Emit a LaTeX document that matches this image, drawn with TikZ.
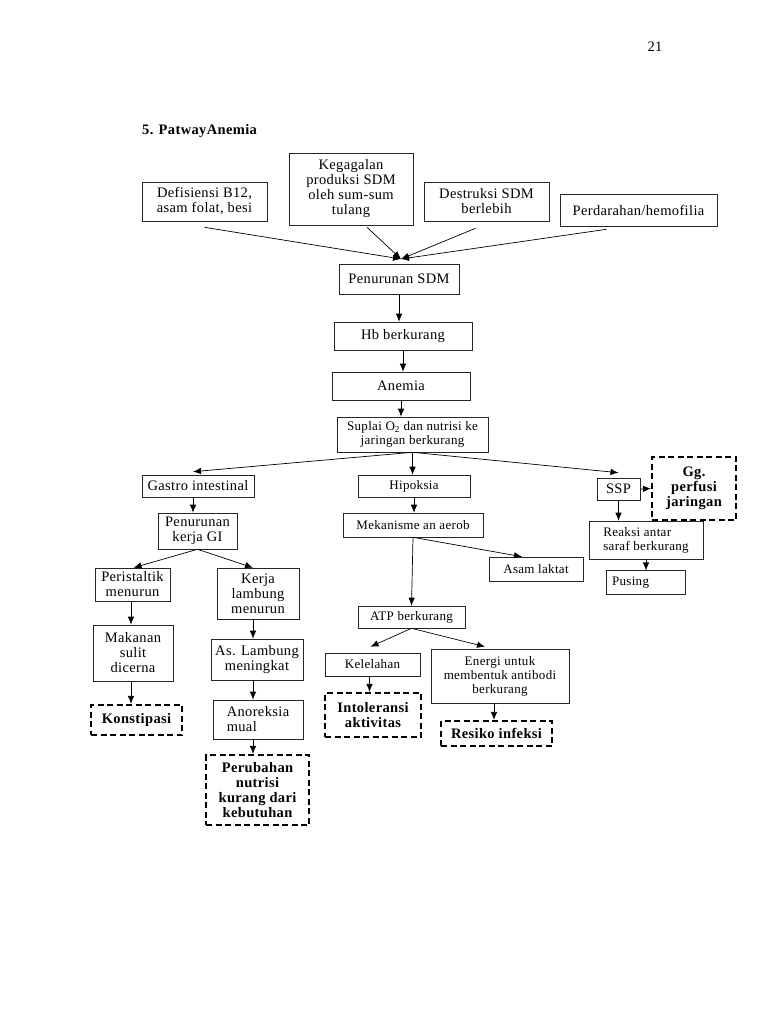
\documentclass[tikz,border=0pt]{standalone}
\usepackage{fontspec}
\setmainfont{Liberation Serif}[LetterSpace=2.5]
\usetikzlibrary{arrows.meta}

\newcommand{\fsnorm}{\fontsize{14.5}{15}\selectfont}
\newcommand{\fssmall}{\fontsize{13}{14}\selectfont}

\begin{document}
\begin{tikzpicture}[x=1pt,y=-1pt,
  box/.style={draw=black!85, line width=0.6pt, inner sep=1pt, align=center, font=\fsnorm},
  sbox/.style={box, font=\fssmall},
  dbox/.style={draw, line width=2.2pt, dash pattern=on 6pt off 3.5pt, inner sep=1pt, align=center, font=\fsnorm\bfseries},
  wh/.style 2 args={minimum width=#1pt, minimum height=#2pt},
  arr/.style={-{Latex[length=8pt,width=6.5pt]}, line width=0.7pt}]

\useasboundingbox (0,0) rectangle (768,1024);

\node[font=\fsnorm] (pagenum) at (655,47) {21};
\node[anchor=base west, inner sep=0, font=\fsnorm\bfseries] (title) at (142,135) {5. PatwayAnemia};

% causes
\node[box, wh={125}{39}] (def) at (204.5,201.5) {Defisiensi B12,\\asam folat, besi};
\node[box, wh={124}{72}] (keg) at (351,189) {Kegagalan\\produksi SDM\\oleh sum-sum\\tulang};
\node[box, wh={125}{39}] (des) at (486.5,201.5) {Destruksi SDM\\berlebih};
\node[box, wh={157}{32}] (per) at (638.5,210) {Perdarahan/hemofilia};
\coordinate (meet) at (401,259);

% main chain
\node[box, wh={120}{30}] (pen) at (399,279) {Penurunan SDM};
\node[box, wh={138}{28}] (hb) at (403,336) {Hb berkurang};
\node[box, wh={138}{28}] (anemia) at (401,386) {Anemia};
\node[sbox, wh={151}{35}] (suplai) at (412.5,434.5) {Suplai O\textsubscript{2} dan nutrisi ke\\jaringan berkurang};

% three branches
\node[box, wh={112}{22}] (gastro) at (198,486) {Gastro intestinal};
\node[sbox, wh={112}{22}] (hipoksia) at (414,486) {Hipoksia};
\node[box, wh={43}{22}] (ssp) at (618.5,489) {SSP};
\node[dbox, wh={84}{63}] (gg) at (694,488.5) {Gg.\\perfusi\\jaringan};
\node[sbox, wh={114}{38}, align=left] (reaksi) at (646,540) {Reaksi antar\\saraf berkurang};
\node[sbox, text width=67pt, inner sep=6pt, minimum height=23pt, align=left] (pusing) at (645.5,582.5) {Pusing};

% gastro intestinal
\node[box, wh={79}{36}] (kerjagi) at (197.5,531) {Penurunan\\kerja GI};
\node[box, wh={75}{33}] (peris) at (132.5,584.5) {Peristaltik\\menurun};
\node[box, wh={82}{51}] (lambung) at (258,593.5) {Kerja\\lambung\\menurun};
\node[box, wh={80}{56}] (makanan) at (133,653) {Makanan\\sulit\\dicerna};
\node[dbox, wh={91}{30}] (konst) at (136.5,720) {Konstipasi};
\node[box, wh={92}{41}] (asl) at (257,659.5) {As. Lambung\\meningkat};
\node[box, wh={90}{39}, align=left] (anor) at (258,719.5) {Anoreksia\\mual};
\node[dbox, wh={103}{70}] (perub) at (257.5,790) {Perubahan\\nutrisi\\kurang dari\\kebutuhan};

% hipoksia
\node[sbox, wh={140}{24}] (mek) at (413,525) {Mekanisme an aerob};
\node[sbox, wh={94}{24}] (laktat) at (536,569) {Asam laktat};
\node[sbox, wh={107}{22}] (atp) at (411.5,617) {ATP berkurang};
\node[sbox, wh={95}{23}] (lelah) at (372.5,664.5) {Kelelahan};
\node[sbox, wh={138}{54}] (energi) at (500,676) {Energi untuk\\membentuk antibodi\\berkurang};
\node[dbox, wh={96}{44}] (intol) at (373,715) {Intoleransi\\aktivitas};
\node[dbox, wh={111}{25}] (resiko) at (496.5,733.5) {Resiko infeksi};

% arrows into Penurunan SDM
\draw[arr] ([yshift=-6pt]def.south) -- (meet);
\draw[arr] ([xshift=16pt,yshift=-2pt]keg.south) -- (meet);
\draw[arr] ([xshift=-11pt,yshift=-7pt]des.south) -- (meet);
\draw[arr] ([xshift=-32pt,yshift=-3pt]per.south) -- (meet);

\draw[arr] (pen.south) -- (pen.south |- hb.north);
\draw[arr] (hb.south) -- (hb.south |- anemia.north);
\draw[arr] (anemia.south) -- (anemia.south |- suplai.north);

% fan out
\draw[arr] (suplai.south) -- ([xshift=-5pt,yshift=3pt]gastro.north);
\draw[arr] (suplai.south) -- (suplai.south |- hipoksia.north);
\draw[arr] (suplai.south) -- ([yshift=5pt]ssp.north);

% SSP side
\draw[arr] (ssp.east) -- (gg.west);
\draw[arr] (ssp.south) -- (ssp.south |- reaksi.north);
\draw[arr] (reaksi.south) -- (reaksi.south |- pusing.north);

% GI side
\draw[arr] ([xshift=-5pt]gastro.south) -- ([xshift=-5pt]gastro.south |- kerjagi.north);
\draw[arr] (kerjagi.south) -- ([xshift=1pt]peris.north);
\draw[arr] (kerjagi.south) -- ([xshift=-5pt]lambung.north);
\draw[arr] ([xshift=-1.5pt]peris.south) -- ([xshift=-1.5pt]peris.south |- makanan.north);
\draw[arr] ([xshift=-2pt]makanan.south) -- ([xshift=-2pt]makanan.south |- konst.north);
\draw[arr] ([xshift=-5pt]lambung.south) -- ([xshift=-5pt]lambung.south |- asl.north);
\draw[arr] ([xshift=-4pt]asl.south) -- ([xshift=-4pt]asl.south |- anor.north);
\draw[arr] ([xshift=-5pt]anor.south) -- ([xshift=-5pt]anor.south |- perub.north);

% hipoksia side
\draw[arr] (hipoksia.south) -- (hipoksia.south |- mek.north);
\draw[arr] (mek.south) -- ([xshift=-14pt]laktat.north);
\draw[arr] (mek.south) -- (atp.north);
\draw[arr] (atp.south) -- ([xshift=-2pt,yshift=6pt]lelah.north);
\draw[arr] (atp.south) -- ([xshift=-15pt,yshift=2pt]energi.north);
\draw[arr] ([xshift=-3pt]lelah.south) -- ([xshift=-3pt]lelah.south |- intol.north);
\draw[arr] ([xshift=-6pt]energi.south) -- ([xshift=-6pt]energi.south |- resiko.north);

\end{tikzpicture}
\end{document}
